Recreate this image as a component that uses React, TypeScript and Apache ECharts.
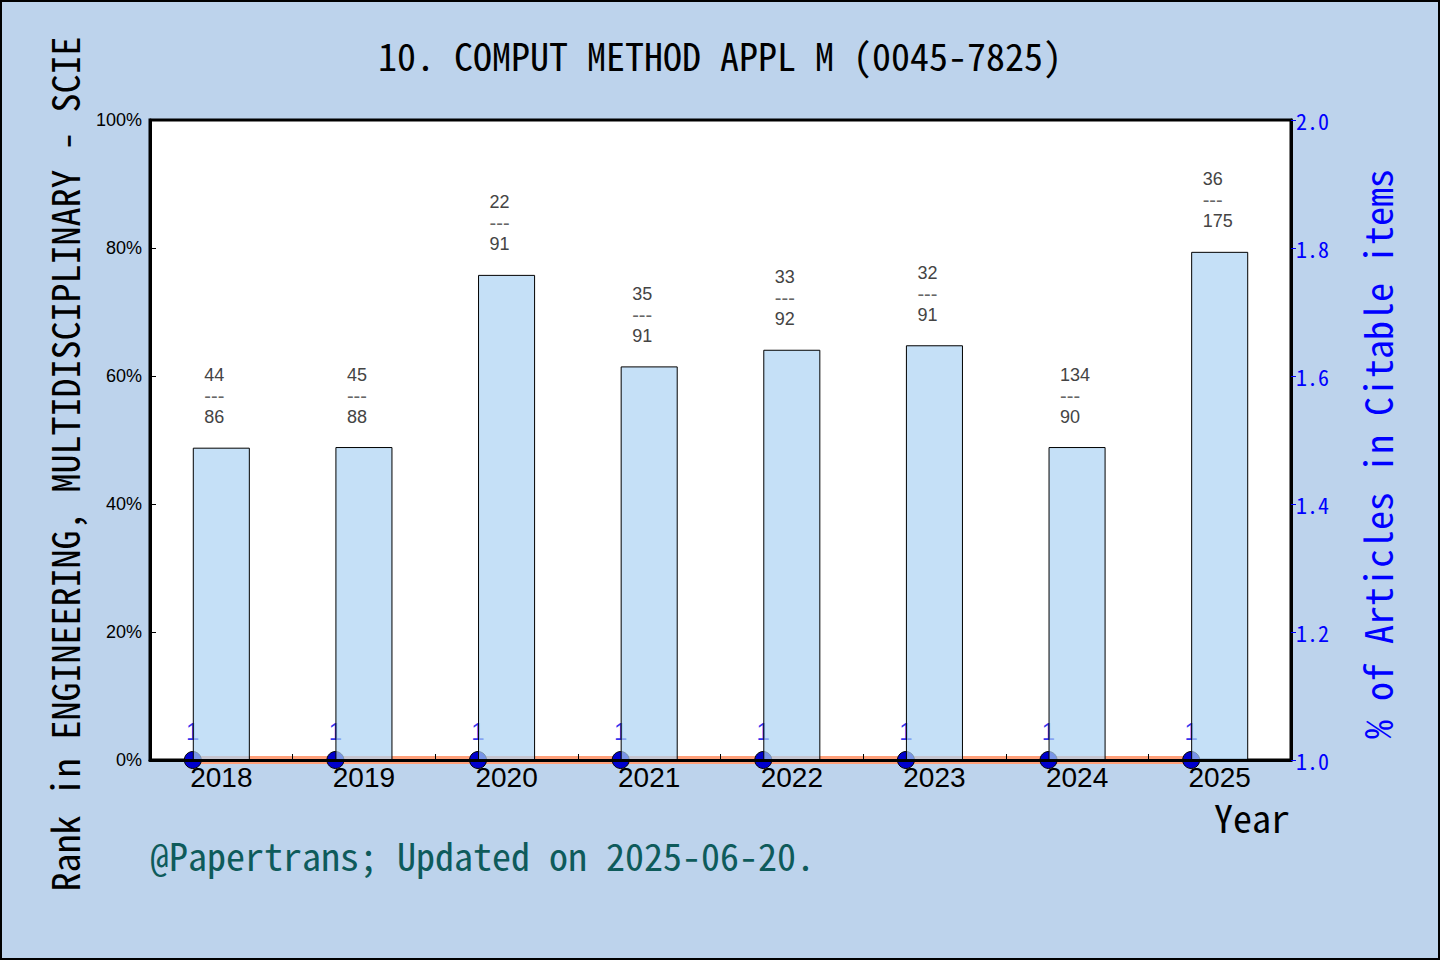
import React, { useEffect, useRef } from "react";
import * as echarts from "echarts";

const years = ["2018", "2019", "2020", "2021", "2022", "2023", "2024", "2025"];
const rankValues = [44, 45, 22, 35, 33, 32, 134, 36];
const totalValues = [86, 88, 91, 91, 92, 91, 90, 175];
const barPercent = [48.8, 48.9, 75.8, 61.5, 64.1, 64.8, 48.9, 79.4];
const citableValues = [1, 1, 1, 1, 1, 1, 1, 1];
const leftTicks = { min: 0, max: 100, interval: 20 };
const rightTicks = { min: 1.0, max: 2.0, interval: 0.2 };

const MONO = "'Noto Sans Mono CJK SC', 'Noto Sans CJK SC', 'DejaVu Sans Mono', monospace";
const SANS = "'Liberation Sans', Arial, sans-serif";
const BAR_FRACTION = 0.4;

export default function App() {
  const ref = useRef<HTMLDivElement>(null);
  useEffect(() => {
    if (!ref.current) return;
    const chart = echarts.init(ref.current, null, { renderer: "svg" });
    const option: any = {
      animation: false,
      backgroundColor: "#BDD3EC",
      title: {
        text: "10. COMPUT METHOD APPL M (0045-7825)",
        left: "center",
        top: 30,
        textStyle: { fontFamily: MONO, fontSize: 38, fontWeight: "normal", color: "#000" },
      },
      grid: {
        left: 150,
        right: 149,
        top: 120,
        bottom: 200,
        show: true,
        backgroundColor: "#fff",
        borderColor: "#000",
        borderWidth: 3,
      },
      xAxis: [
        {
          type: "category",
          data: years,
          z: 5,
          boundaryGap: true,
          axisLine: { onZero: false, lineStyle: { color: "#000", width: 3 } },
          axisTick: { show: true, inside: true, length: 6, lineStyle: { color: "#000", width: 1 } },
          axisLabel: { fontFamily: SANS, fontSize: 28, color: "#000", margin: 3 },
          splitLine: { show: false },
        },
        {
          type: "value",
          min: -0.5,
          max: years.length - 0.5,
          show: false,
          axisLine: { onZero: false },
        },
      ],
      yAxis: [
        {
          type: "value",
          min: leftTicks.min,
          max: leftTicks.max,
          interval: leftTicks.interval,
          position: "left",
          z: 5,
          axisLine: { show: true, onZero: false, lineStyle: { color: "#000", width: 3 } },
          axisTick: { show: true, inside: true, length: 6, lineStyle: { color: "#000", width: 1 } },
          axisLabel: { formatter: "{value}%", fontFamily: SANS, fontSize: 18, color: "#000", margin: 8 },
          splitLine: { show: false },
        },
        {
          type: "value",
          min: rightTicks.min,
          max: rightTicks.max,
          interval: rightTicks.interval,
          position: "right",
          z: 5,
          axisLine: { show: true, onZero: false, lineStyle: { color: "#000", width: 3 } },
          axisTick: { show: true, inside: false, length: 5, lineStyle: { color: "#0000FF", width: 1 } },
          axisLabel: {
            formatter: (v: number) => v.toFixed(1),
            fontFamily: MONO,
            fontSize: 22,
            color: "#0000FF",
            margin: 5,
          },
          splitLine: { show: false },
        },
      ],
      series: [
        {
          type: "line",
          xAxisIndex: 1,
          yAxisIndex: 1,
          z: 1,
          clip: false,
          data: citableValues.map((v, i) => [i - BAR_FRACTION / 2, v]),
          symbol: "circle",
          symbolSize: 17,
          itemStyle: { color: "#0000CD", borderColor: "#000", borderWidth: 1 },
          lineStyle: { color: "#FFA07A", width: 8 },
          label: {
            show: true,
            position: "top",
            distance: 8,
            formatter: (p: any) => String(p.value[1]),
            fontFamily: SANS,
            fontSize: 24,
            color: "#3333EE",
          },
        },
        {
          type: "bar",
          xAxisIndex: 0,
          yAxisIndex: 0,
          z: 2,
          data: barPercent,
          barWidth: BAR_FRACTION * 100 + "%",
          itemStyle: { color: "rgba(172,211,244,0.7)", borderColor: "#000", borderWidth: 1 },
          label: {
            show: true,
            position: "top",
            distance: 20,
            formatter: (p: any) =>
              `{a|${rankValues[p.dataIndex]}}\n{d|---}\n{a|${totalValues[p.dataIndex]}}`,
            rich: {
              a: { fontFamily: SANS, fontSize: 18, lineHeight: 21, width: 34, align: "left", color: "#444" },
              d: { fontFamily: SANS, fontSize: 20, lineHeight: 21, width: 34, align: "left", color: "#666" },
            },
          },
        },
      ],
      graphic: [
        {
          type: "rect",
          shape: { x: 1, y: 1, width: 1438, height: 958 },
          style: { fill: "none", stroke: "#000", lineWidth: 2 },
          silent: true,
        },
        {
          type: "text",
          x: 63,
          y: 464,
          rotation: Math.PI / 2,
          style: {
            text: "Rank in ENGINEERING, MULTIDISCIPLINARY - SCIE",
            fontFamily: MONO,
            fontSize: 38,
            fill: "#000",
            align: "center",
            verticalAlign: "middle",
          },
        },
        {
          type: "text",
          x: 1376,
          y: 454,
          rotation: Math.PI / 2,
          style: {
            text: "% of Articles in Citable items",
            fontFamily: MONO,
            fontSize: 38,
            fill: "#0000FF",
            align: "center",
            verticalAlign: "middle",
          },
        },
        {
          type: "text",
          x: 1290,
          y: 816,
          style: {
            text: "Year",
            fontFamily: MONO,
            fontSize: 38,
            fill: "#000",
            align: "right",
            verticalAlign: "middle",
          },
        },
        {
          type: "text",
          x: 150,
          y: 854,
          style: {
            text: "@Papertrans; Updated on 2025-06-20.",
            fontFamily: MONO,
            fontSize: 38,
            fill: "#0E5B5B",
            align: "left",
            verticalAlign: "middle",
          },
        },
      ],
    };
    chart.setOption(option);
    return () => chart.dispose();
  }, []);
  return (
    <div
      ref={ref}
      style={{ position: "absolute", left: 0, top: 0, width: 1440, height: 960 }}
    />
  );
}
